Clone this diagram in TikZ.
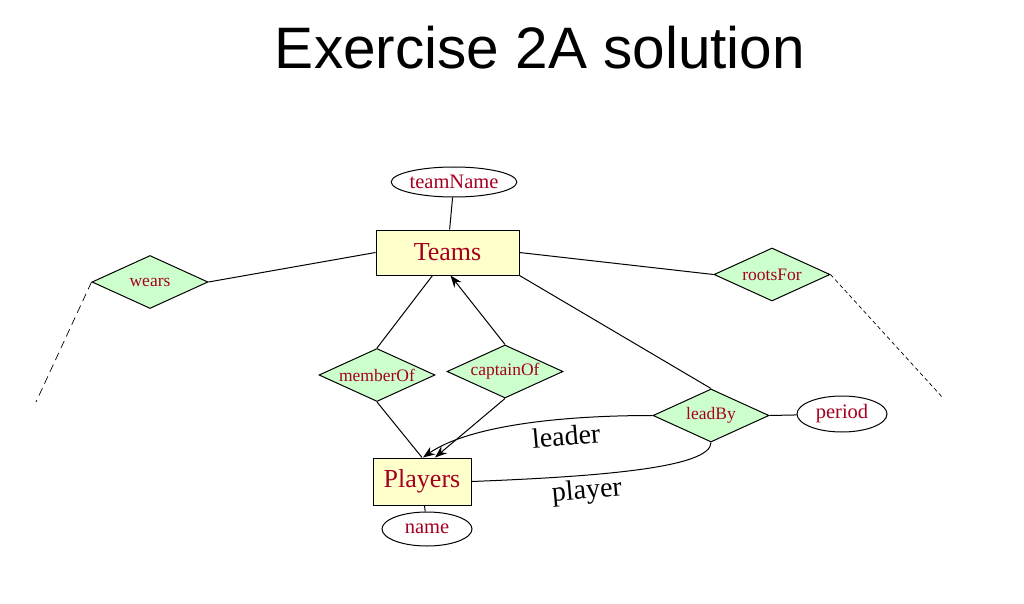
\documentclass[tikz,border=0pt]{standalone}
\usepackage{fontspec}
\setmainfont{Liberation Serif}
\newfontfamily\titlefont{Liberation Sans}
\usetikzlibrary{shapes.geometric,arrows.meta}
\definecolor{erred}{HTML}{A50021}
\definecolor{entfill}{HTML}{FFFFCC}
\definecolor{relfill}{HTML}{CCFFCC}
\begin{document}
\begin{tikzpicture}[x=1pt,y=-1pt,line width=1pt,
  ent/.style={draw,fill=entfill,text=erred,inner sep=0pt,font=\fontsize{26}{28}\selectfont},
  rel/.style={diamond,aspect=2.2,draw,fill=relfill,text=erred,inner sep=0pt,minimum width=116pt,minimum height=53pt,font=\fontsize{17.5}{19}\selectfont},
  attr/.style={ellipse,draw,fill=white,text=erred,inner sep=0pt,font=\fontsize{20.5}{22}\selectfont},
  role/.style={font=\fontsize{28}{30}\selectfont},
  arr/.style={-{Stealth[length=12pt,width=9pt]}}]
\useasboundingbox (0,0) rectangle (1024,604);
\node[font=\titlefont\fontsize{58.5}{60}\selectfont] (title) at (540,48) {Exercise 2A solution};
\node[ent,minimum width=143pt,minimum height=45pt] (Teams) at (447.5,252.5) {Teams};
\node[ent,minimum width=98pt,minimum height=47pt] (Players) at (422,481.5) {Players};
\node[attr,minimum width=108pt,minimum height=30pt] (teamName) at (454,182) {teamName};
\node[attr,minimum width=90pt,minimum height=36pt] (period) at (842,414) {period};
\node[attr,minimum width=90pt,minimum height=34pt] (name) at (427,529) {name};
\node[rel] (wears) at (150,282) {wears};\node[rel] (rootsFor) at (772,274.5) {rootsFor};
\node[rel] (memberOf) at (377,375) {memberOf};\node[rel] (captainOf) at (505,371.5) {captainOf};
\node[rel] (leadBy) at (711,415.5) {leadBy};
\coordinate (wearsEnd) at (36,402);\coordinate (rootsForEnd) at (943,398);
% attributes and plain links
\draw (teamName)--(Teams);\draw (name)--(Players);\draw (leadBy.east)--(period);
\draw (Teams.west)--(wears.east);\draw (Teams.east)--(rootsFor.west);
\draw ([xshift=-15pt]Teams.south)--(memberOf.north);\draw (memberOf.south)--(Players.north);
\draw (Teams.south east)--(leadBy.north);
\draw[dash pattern=on 8pt off 5pt,line width=.7pt] (wears.west)--(wearsEnd);
\draw[dash pattern=on 4pt off 3pt,line width=.7pt] (rootsFor.east)--(rootsForEnd);
% arrows
\draw[arr] (captainOf.north)--([xshift=3pt]Teams.south);
\draw[arr] (captainOf.south)--([xshift=13pt]Players.north);
\draw[arr] (leadBy.west) .. controls +(-110,0) and +(40,-28) .. ([xshift=1pt]Players.north);
\draw (Players.east) .. controls +(130,-5) and +(0,25) .. (leadBy.south);
\node[role,rotate=5] (leader) at (566,436) {leader};
\node[role,rotate=5] (player) at (587,492) {player};
\end{tikzpicture}
\end{document}
